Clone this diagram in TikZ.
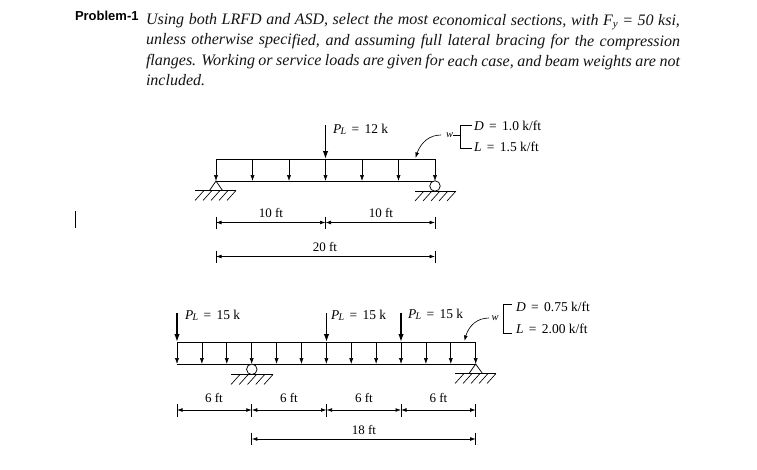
\documentclass[tikz,border=0pt]{standalone}
\usepackage{fontspec}
\setmainfont{Liberation Serif}
\newfontfamily\probfont{Liberation Sans}
\usetikzlibrary{arrows.meta,bending}
\newcommand{\PL}{\textit{P}\hspace{-0.05em}\raisebox{-0.3ex}{\fontsize{10}{11}\selectfont\textit{L}}}
\newcommand{\eqs}{\hspace{0.4em}=\hspace{0.4em}}
\tikzset{
  x=1pt,y=-1pt,
  every node/.style={inner sep=0pt,outer sep=0pt},
  prose/.style={font=\fontsize{16}{18}\selectfont\itshape,anchor=base west,text=black!92,rotate=-0.2},
  prob/.style={font=\fontsize{13}{15}\selectfont\probfont\bfseries,anchor=base west},
  lab/.style={font=\fontsize{13.5}{15}\selectfont,anchor=base west},
  dimlab/.style={font=\fontsize{13}{15}\selectfont,anchor=base},
  wlab/.style={font=\fontsize{10.5}{12}\selectfont\itshape,anchor=base west},
  beam/.style={line width=0.85pt},
  udl/.style={line width=0.65pt,-{Latex[length=6pt,width=4.2pt]}},
  bigload/.style={line width=1.4pt,-{Latex[length=8pt,width=5.5pt]}},
  dim/.style={line width=0.65pt,{Latex[length=5.5pt,width=3.8pt]}-{Latex[length=5.5pt,width=3.8pt]}},
  tick/.style={line width=0.8pt},
  ground/.style={line width=0.8pt},
  hatch/.style={line width=0.65pt},
  sup/.style={line width=0.75pt,fill=white},
}
\newcommand{\grnd}[3]{% x-left, x-right, y
  \draw[ground] (#1,#3) -- (#2,#3);
  \foreach \i in {0,1,2,3,4}{
    \pgfmathsetmacro{\xa}{#1+9+\i*(#2-#1-9)/4}
    \draw[hatch] (\xa,#3) -- (\xa-9,#3+10);
  }
}
\begin{document}
\begin{tikzpicture}
\useasboundingbox (0,0) rectangle (757,469);
\fill[white] (0,0) rectangle (757,469);
% prose
\node[prob] (probtitle) at (75,20) {Problem-1};
\node[prose] (l1) at (146,24) {\makebox[534pt][s]{Using both LRFD and ASD, select the most economical sections, with \textit{F}\raisebox{-0.3ex}{\fontsize{11}{12}\selectfont\textit{y}} = 50 ksi,}};
\node[prose] (l2) at (146,44.5) {\makebox[534pt][s]{unless otherwise specified, and assuming full lateral bracing for the compression}};
\node[prose] (l3) at (146,65) {\makebox[534pt][s]{flanges. Working or service loads are given for each case, and beam weights are not}};
\node[prose] (l4) at (146,85) {included.};
\draw[line width=0.9pt] (75.5,211) -- (75.5,228);

% ---------- top beam
\coordinate (a0) at (216,159); \coordinate (a1) at (435,159);
\coordinate (b0) at (216,181); \coordinate (b1) at (435,181);
\draw[beam] (a0) -- (a1);
\draw[beam] (b0) -- (b1);
\foreach \i in {0,...,6}{
  \pgfmathsetmacro{\xx}{216+\i*36.5}
  \draw[udl] (\xx,159) -- (\xx,181);
}
\coordinate (ptop) at (325.5,125); \coordinate (pbot) at (325.5,159);
\draw[bigload] (ptop) -- (pbot);
\node[lab] (pl1) at (333,133) {\PL\eqs 12 k};
% supports
\grnd{195}{236}{190.5}
\draw[sup] (216,181) -- (209.5,190.5) -- (222.5,190.5) -- cycle;
\grnd{415}{456}{191}
\node[draw,circle,sup,minimum size=10.5pt] (roll1) at (435,186) {};
% w
\node[wlab] (w1) at (446,137) {w};
\coordinate (c1) at (441,135);
\coordinate (c1e) at (415.5,158);
\draw[line width=0.65pt,-{Latex[length=5.5pt,width=3.8pt]}] (c1) .. controls (428,135) and (419,144) .. (c1e);
\draw[line width=0.65pt] (453,135.5) -- (460.5,135.5);
\draw[line width=0.8pt] (472,125) -- (460.5,125) -- (460.5,148) -- (472,148);
\node[lab] (d1) at (474,130) {\textit{D}\eqs 1.0 k/ft};
\node[lab] (e1) at (474,151) {\textit{L}\eqs 1.5 k/ft};
% dims
\coordinate (t1) at (216,222.5); \coordinate (t2) at (325.5,222.5); \coordinate (t3) at (435,222.5);
\foreach \x in {216,325.5,435} \draw[tick] (\x,216.5) -- (\x,229);
\draw[dim] (t1) -- (t2);
\draw[dim] (t2) -- (t3);
\node[dimlab] (d10a) at (271,217.5) {10 ft};
\node[dimlab] (d10b) at (381,217.5) {10 ft};
\coordinate (u1) at (216,256.5); \coordinate (u3) at (435,256.5);
\foreach \x in {216,435} \draw[tick] (\x,250.5) -- (\x,263);
\draw[dim] (u1) -- (u3);
\node[dimlab] (d20) at (325,251.5) {20 ft};

% ---------- bottom beam
\coordinate (p0) at (177,342); \coordinate (p1) at (475.7,342);
\coordinate (q0) at (177,364); \coordinate (q1) at (475.7,364);
\draw[beam] (p0) -- (p1);
\draw[beam] (q0) -- (q1);
\foreach \i in {0,...,12}{
  \pgfmathsetmacro{\xx}{177+\i*24.89}
  \draw[udl] (\xx,342) -- (\xx,364);
}
\draw[bigload] (177,313) -- (177,342);
\draw[bigload] (326.5,313) -- (326.5,342);
\draw[bigload] (401,312.5) -- (401,342);
\node[lab] (pa) at (185,319) {\PL\eqs 15 k};
\node[lab] (pb) at (331,319) {\PL\eqs 15 k};
\node[lab] (pc) at (408,318) {\PL\eqs 15 k};
% supports
\grnd{231}{273}{374.5}
\node[draw,circle,sup,minimum size=10.5pt] (roll2) at (251.8,369.3) {};
\grnd{455}{496}{373.5}
\draw[sup] (475.7,364) -- (469,373.5) -- (482.5,373.5) -- cycle;
% w
\node[wlab] (w2) at (491.5,320) {w};
\coordinate (c2) at (489,318);
\coordinate (c2e) at (464.5,341);
\draw[line width=0.65pt,-{Latex[length=5.5pt,width=3.8pt]}] (c2) .. controls (476,318) and (467,327) .. (c2e);
\draw[line width=0.8pt] (512,304.5) -- (503,304.5) -- (503,333.5) -- (512,333.5);
\node[lab] (d2) at (516,311.5) {\textit{D}\eqs 0.75 k/ft};
\node[lab] (e2) at (516,333) {\textit{L}\eqs 2.00 k/ft};
% dims
\foreach \x in {177,251.8,326.5,401,475.7} \draw[tick] (\x,404) -- (\x,416.5);
\coordinate (r0) at (177,410); \coordinate (r1) at (251.8,410); \coordinate (r2) at (326.5,410); \coordinate (r3) at (401,410); \coordinate (r4) at (475.7,410);
\draw[dim] (r0) -- (r1);
\draw[dim] (r1) -- (r2);
\draw[dim] (r2) -- (r3);
\draw[dim] (r3) -- (r4);
\node[dimlab] (s1) at (214,402) {6 ft};
\node[dimlab] (s2) at (289,402) {6 ft};
\node[dimlab] (s3) at (364,402) {6 ft};
\node[dimlab] (s4) at (438.5,402) {6 ft};
\foreach \x in {251.8,475.7} \draw[tick] (\x,432.5) -- (\x,445);
\coordinate (v1) at (251.8,439); \coordinate (v2) at (475.7,439);
\draw[dim] (v1) -- (v2);
\node[dimlab] (s18) at (364,434) {18 ft};
\end{tikzpicture}
\end{document}
